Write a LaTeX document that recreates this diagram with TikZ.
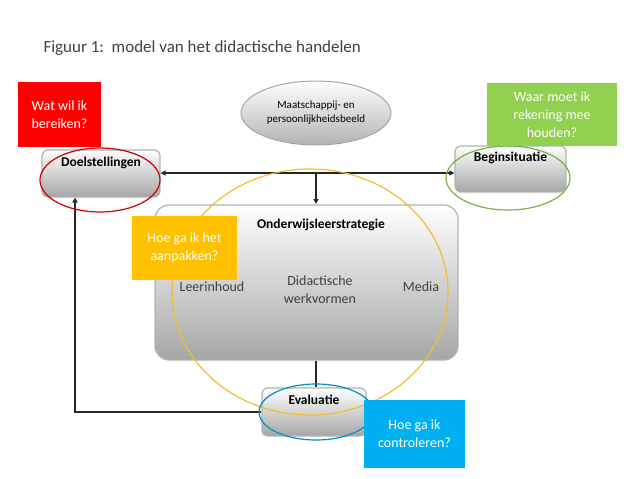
\documentclass[tikz,border=0pt]{standalone}
\usepackage{fontspec}
\setmainfont{Carlito}
\usetikzlibrary{shapes.geometric,arrows.meta}
\definecolor{gold}{RGB}{240,190,50}
\definecolor{qgreen}{RGB}{146,208,80}
\definecolor{qorange}{RGB}{255,192,0}
\definecolor{qblue}{RGB}{0,176,240}
\begin{document}
\begin{tikzpicture}[x=1pt,y=-1pt,
  gbox/.style={draw=gray!60,line width=1.2pt,rounded corners=6pt,top color=white,bottom color=gray!70},
  conn/.style={line width=1.6pt,black!85},
  ar/.style={conn,-{Triangle[length=5pt,width=5pt]}},
  qbox/.style={text=white,align=center,font=\fontsize{14}{18}\selectfont,inner sep=0pt},
  blab/.style={font=\bfseries\fontsize{13.5}{15}\selectfont},
  itxt/.style={font=\fontsize{14}{18}\selectfont,text=black!75},
  ring/.style={draw,line width=1.2pt,ellipse,inner sep=0pt}]
\useasboundingbox (0,0) rectangle (638,479);
\node[anchor=west,text=black!75,font=\fontsize{17}{20}\selectfont] (title) at (40,48) {Figuur 1:\ \ model van het didactische handelen};
\node[ellipse,draw=gray!70,line width=1pt,top color=white,bottom color=gray!60,minimum width=150pt,minimum height=64pt,align=center,font=\fontsize{11}{14}\selectfont] (maat) at (316,113) {Maatschappij- en\\persoonlijkheidsbeeld};
\node[gbox,minimum width=118pt,minimum height=47pt] (doel) at (101,173.5) {};
\node[blab,anchor=north] at (doel.north) [yshift=-4pt] {Doelstellingen};
\node[gbox,minimum width=111pt,minimum height=46pt] (begin) at (510.5,169) {};
\node[blab,anchor=north] at (begin.north) [yshift=-3pt] {Beginsituatie};
\node[gbox,rounded corners=14pt,minimum width=303pt,minimum height=155pt] (strat) at (306.5,282.5) {};
\node[blab] (ow) at (321,225) {Onderwijsleerstrategie};
\node[itxt] (lh) at (212,287) {Leerinhoud};
\node[itxt,align=center] (dw) at (320,290) {Didactische\\werkvormen};
\node[itxt] (md) at (421,287) {Media};
\node[gbox,minimum width=104pt,minimum height=48pt] (eval) at (314,412) {};
\node[blab,anchor=north] at (eval.north) [yshift=-4pt] {Evaluatie};
\coordinate (jn) at (316,173);
\draw[conn,{Triangle[length=5pt,width=5pt]}-{Triangle[length=5pt,width=5pt]}] (doel.east|-jn) -- (begin.west|-jn);
\draw[ar] (jn) -- (316,204);
\draw[conn] (strat.south-|jn) -- (eval.north-|jn);
\draw[ar] (eval.west) -- (75,412) -- (75,197.5);
\node[ring,draw=red!80!black,minimum width=120pt,minimum height=64pt] (r1) at (100,180) {};
\node[ring,draw=qgreen!85!black,minimum width=124pt,minimum height=64pt] (r2) at (508,178) {};
\node[ring,draw=gold,minimum width=276pt,minimum height=246pt] (r3) at (310,292) {};
\node[ring,draw=qblue!80!black,minimum width=114pt,minimum height=56pt] (r4) at (316,412) {};
\node[qbox,fill=red,minimum width=83pt,minimum height=65pt] (q1) at (59.5,114.5) {Wat wil ik\\bereiken?};
\node[qbox,fill=qgreen,minimum width=130pt,minimum height=63pt] (q2) at (552,114.5) {Waar moet ik\\rekening mee\\houden?};
\node[qbox,fill=qorange,minimum width=105pt,minimum height=64pt] (q3) at (184.5,248) {Hoe ga ik het\\aanpakken?};
\node[qbox,fill=qblue,minimum width=101pt,minimum height=68pt] (q4) at (414.5,434) {Hoe ga ik\\controleren?};
\end{tikzpicture}
\end{document}
